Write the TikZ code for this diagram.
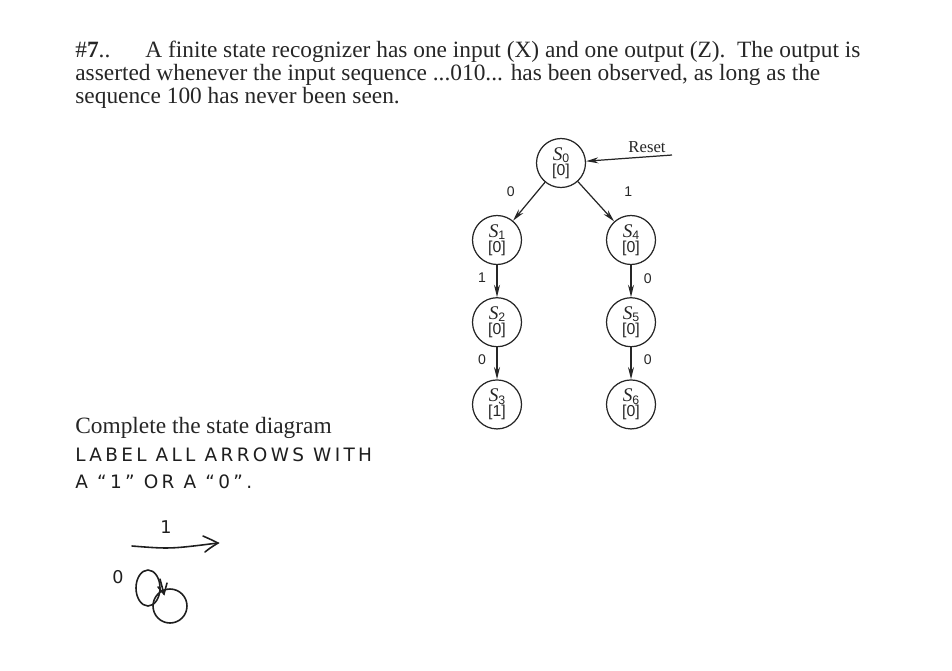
\documentclass[tikz,border=0pt]{standalone}
\usepackage{fontspec}
\setmainfont{Liberation Serif}
\setsansfont{Liberation Sans}
\newfontfamily\handfont[LetterSpace=18]{DejaVu Sans}
\usetikzlibrary{arrows.meta,positioning}
\definecolor{ink}{HTML}{262626}
\definecolor{pen}{HTML}{1E1E1E}
\tikzset{
  >={Stealth[length=7pt,width=3.4pt]},
  every node/.style={text=ink},
  state/.style={circle,draw=ink,line width=0.7pt,minimum size=9.8mm,inner sep=0pt,align=center,
    font=\sffamily\fontsize{9}{9.5}\selectfont},
  trans/.style={->,line width=0.7pt,draw=ink},
  edgelbl/.style={font=\sffamily\fontsize{8}{9}\selectfont,inner sep=1pt},
  body/.style={anchor=base west,inner sep=0pt,font=\fontsize{13.3}{15}\selectfont},
  hand/.style={anchor=base west,inner sep=0pt,font=\handfont\fontsize{10.5}{12}\selectfont,text=pen},
  sketch/.style={draw=pen,line width=0.9pt,line cap=round},
}
\newcommand{\stlbl}[2]{{\rmfamily\itshape\fontsize{11}{11}\selectfont S}{\fontsize{7}{7}\selectfont\raisebox{-0.35ex}{#1}}\\[-1pt]{[#2]}}

\begin{document}
\begin{tikzpicture}[x=0.02cm,y=-0.02cm,node distance=6.4mm]
\useasboundingbox (0,0) rectangle (952,670);

% problem text
\node[body] (l1) at (75,57) {\#\textbf{7}..};
\node[body] (l1b) at (145,57) {A finite state recognizer has one input (X) and one output (Z).\ \ The output is};
\node[body] (l2) at (75,80) {asserted whenever the input sequence ...010... has been observed, as long as the};
\node[body] (l3) at (75,103) {sequence 100 has never been seen.};
\node[body] (task) at (75,433) {Complete the state diagram};
\node[hand] (h1) at (75,461) {LABEL ALL ARROWS WITH};
\node[hand] (h2) at (75,488) {A “1” OR A “0”.};

% states
\node[state] (s0) at (561,163) {\stlbl{0}{0}};
\node[state] (s1) at (497,240) {\stlbl{1}{0}};
\node[state] (s4) at (631,240) {\stlbl{4}{0}};
\node[state,below=of s1] (s2) {\stlbl{2}{0}};
\node[state,below=of s2] (s3) {\stlbl{3}{1}};
\node[state,below=of s4] (s5) {\stlbl{5}{0}};
\node[state,below=of s5] (s6) {\stlbl{6}{0}};

% transitions
\coordinate (rst) at (672,155);
\draw[trans] (rst) -- (s0);
\node[font=\fontsize{9.5}{10}\selectfont,anchor=base] (rsttxt) at (647,152) {Reset};
\draw[trans] (s0) -- (s1) node[edgelbl,pos=0.25,left=0.4cm] {0};
\draw[trans] (s0) -- (s4) node[edgelbl,pos=0.25,right=0.7cm] {1};
\draw[trans] (s1) -- (s2) node[edgelbl,pos=0.38,left=5pt] {1};
\draw[trans] (s2) -- (s3) node[edgelbl,pos=0.4,left=5pt] {0};
\draw[trans] (s4) -- (s5) node[edgelbl,pos=0.42,right=6pt] {0};
\draw[trans] (s5) -- (s6) node[edgelbl,pos=0.4,right=6pt] {0};

% hand sketch
\node[font=\handfont\fontsize{10}{10}\selectfont,text=pen] (one) at (166,527) {1};
\coordinate (ha) at (132,546);
\coordinate (hb) at (218,543);
\draw[sketch] (ha) .. controls (170,549) .. (hb);
\draw[sketch] (203,536) .. controls (212,540) .. (218,543) .. controls (210,548) .. (205,552);
\node[font=\handfont\fontsize{10}{10}\selectfont,text=pen] (zero) at (118,577) {0};
\draw[sketch] (148,588) ellipse (12 and 18);
\draw[sketch] (170,606) circle (17);
\draw[sketch] (160,579) -- (164,594);
\draw[sketch] (158,587) -- (164,594) -- (167,583);
\end{tikzpicture}
\end{document}
